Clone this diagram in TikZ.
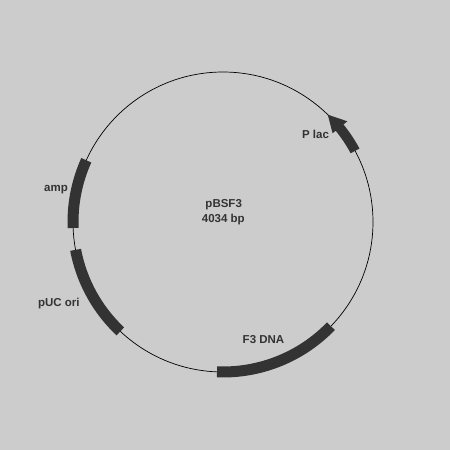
\documentclass[tikz,border=0pt]{standalone}
\usepackage{fontspec}
\setmainfont{Liberation Sans}
\usetikzlibrary{calc}
\definecolor{mapbg}{HTML}{CCCCCC}
\definecolor{featfill}{HTML}{333333}
\newcommand{\feature}[2]{%
	\fill[feat] (#1:144.5) arc[start angle=#1, end angle=#2, radius=144.5]
		-- (#2:155.5) arc[start angle=#2, end angle=#1, radius=155.5] -- cycle;}
\begin{document}
\begin{tikzpicture}[x=1pt,y=1pt,
	feat/.style={fill=featfill},
	lbl/.style={font=\fontsize{11.5}{13}\selectfont\bfseries, text=featfill, anchor=base, inner sep=0pt}]
	\fill[mapbg] (-223,-228) rectangle (227,222);
	\draw[line width=0.7pt] (0,0) circle[radius=150];

	\feature{155.7}{182.3}
	\feature{190.7}{226.8}
	\feature{267.7}{316}
	\fill[feat] (28.3:145) arc[start angle=28.3, end angle=39, radius=145]
		-- (39:141) -- (45.7:150) -- (39:160)
		-- (39:155) arc[start angle=39, end angle=28.3, radius=155] -- cycle;

	\node[lbl] (plac) at (92.5,84) {P lac};
	\node[lbl] (amp) at (-167,30.3) {amp};
	\node[lbl] (ori) at (-164.2,-84.7) {pUC ori};
	\node[lbl] (f3) at (40.5,-121) {F3 DNA};
	\node[lbl] (name) at (0.7,15) {pBSF3};
	\node[lbl] (size) at (0.3,0) {4034 bp};
\end{tikzpicture}
\end{document}
